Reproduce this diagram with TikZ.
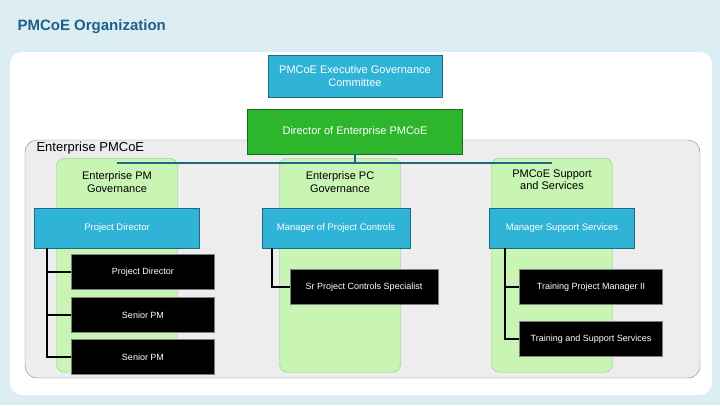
\documentclass[tikz,border=0pt]{standalone}
\usepackage{fontspec}
\setmainfont{Liberation Sans}
\usetikzlibrary{positioning}
\definecolor{bgblue}{HTML}{DCEEF4}
\definecolor{titleblue}{HTML}{1F5F8B}
\definecolor{cyanbox}{HTML}{2FB3D6}
\definecolor{greenbox}{HTML}{2DB52D}
\definecolor{lightgreen}{HTML}{C8F5B4}
\definecolor{panelgray}{HTML}{EDEDED}
\begin{document}
\begin{tikzpicture}[x=1pt,y=-1pt]
% style definitions
\tikzstyle{cyanbox} = [draw=cyanbox!60!black, fill=cyanbox, rectangle,
	text=white, font=\fontsize{9.5}{11}\selectfont, align=center];
\tikzstyle{blackbox} = [draw=gray, fill=black, rectangle, text=white,
	font=\fontsize{9}{11}\selectfont, minimum width=143pt, minimum height=35pt];
\tikzstyle{column} = [draw=green!60!black!50, fill=lightgreen, rounded corners=8pt,
	minimum width=121pt, minimum height=214pt, anchor=north];
\tikzstyle{colhead} = [font=\fontsize{11}{12.5}\selectfont, align=center, anchor=north];
\tikzstyle{link} = [draw=black, line width=1.2pt];
% background
\fill[bgblue] (0,0) rectangle (720,405);
\useasboundingbox (0,0) rectangle (720,405);
\node[anchor=west, text=titleblue, font=\bfseries\fontsize{15}{17}\selectfont] (title) at (14,27) {PMCoE Organization};
\fill[white, rounded corners=12pt] (10,52) rectangle (712,395);
\draw[gray, fill=panelgray, rounded corners=12pt] (25,140) rectangle (700,378);
\node[anchor=west, font=\fontsize{13}{15}\selectfont] (ent) at (33,148) {Enterprise PMCoE};
% columns
\node[column] (colA) at (117,158) {};
\node[column] (colB) at (340,158) {};
\node[column] (colC) at (552,158) {};
\node[colhead] at (117,168) {Enterprise PM\\Governance};
\node[colhead] at (340,168) {Enterprise PC\\Governance};
\node[colhead] at (552,166) {PMCoE Support\\and Services};
% top boxes
\node[cyanbox, minimum width=174pt, minimum height=42pt, font=\fontsize{11}{12.5}\selectfont] (exec) at (355,76) {PMCoE Executive Governance\\Committee};
\node[cyanbox, fill=greenbox, draw=greenbox!60!black, minimum width=215pt, minimum height=45pt, font=\fontsize{11}{12.5}\selectfont] (dir) at (355,132) {Director of Enterprise PMCoE};
\coordinate (hub) at (355,163);
\draw[cyanbox, line width=2pt] (117,163) -- (552,163);
\draw[cyanbox, line width=2pt] (dir.south) -- (hub);
% headers
\node[cyanbox, minimum width=165pt, minimum height=40pt] (pd) at (117,228) {Project Director};
\node[cyanbox, minimum width=148pt, minimum height=40pt] (mpc) at (336,228) {Manager of Project Controls};
\node[cyanbox, minimum width=145pt, minimum height=40pt] (mss) at (562,228) {Manager Support Services};
% staff boxes
\node[blackbox] (a1) at (143,272) {Project Director};
\node[blackbox] (a2) at (143,315) {Senior PM};
\node[blackbox] (a3) at (143,357) {Senior PM};
\node[blackbox, minimum width=148pt] (b1) at (364,287) {Sr Project Controls Specialist};
\node[blackbox] (c1) at (591,287) {Training Project Manager II};
\node[blackbox] (c2) at (591,339) {Training and Support Services};
% connectors
\draw[link] (pd.south -| 47,0) |- (a1.west);
\draw[link] (pd.south -| 47,0) |- (a2.west);
\draw[link] (pd.south -| 47,0) |- (a3.west);
\draw[link] (mpc.south -| 272,0) |- (b1.west);
\draw[link] (mss.south -| 505,0) |- (c1.west);
\draw[link] (mss.south -| 505,0) |- (c2.west);
\end{tikzpicture}
\end{document}
